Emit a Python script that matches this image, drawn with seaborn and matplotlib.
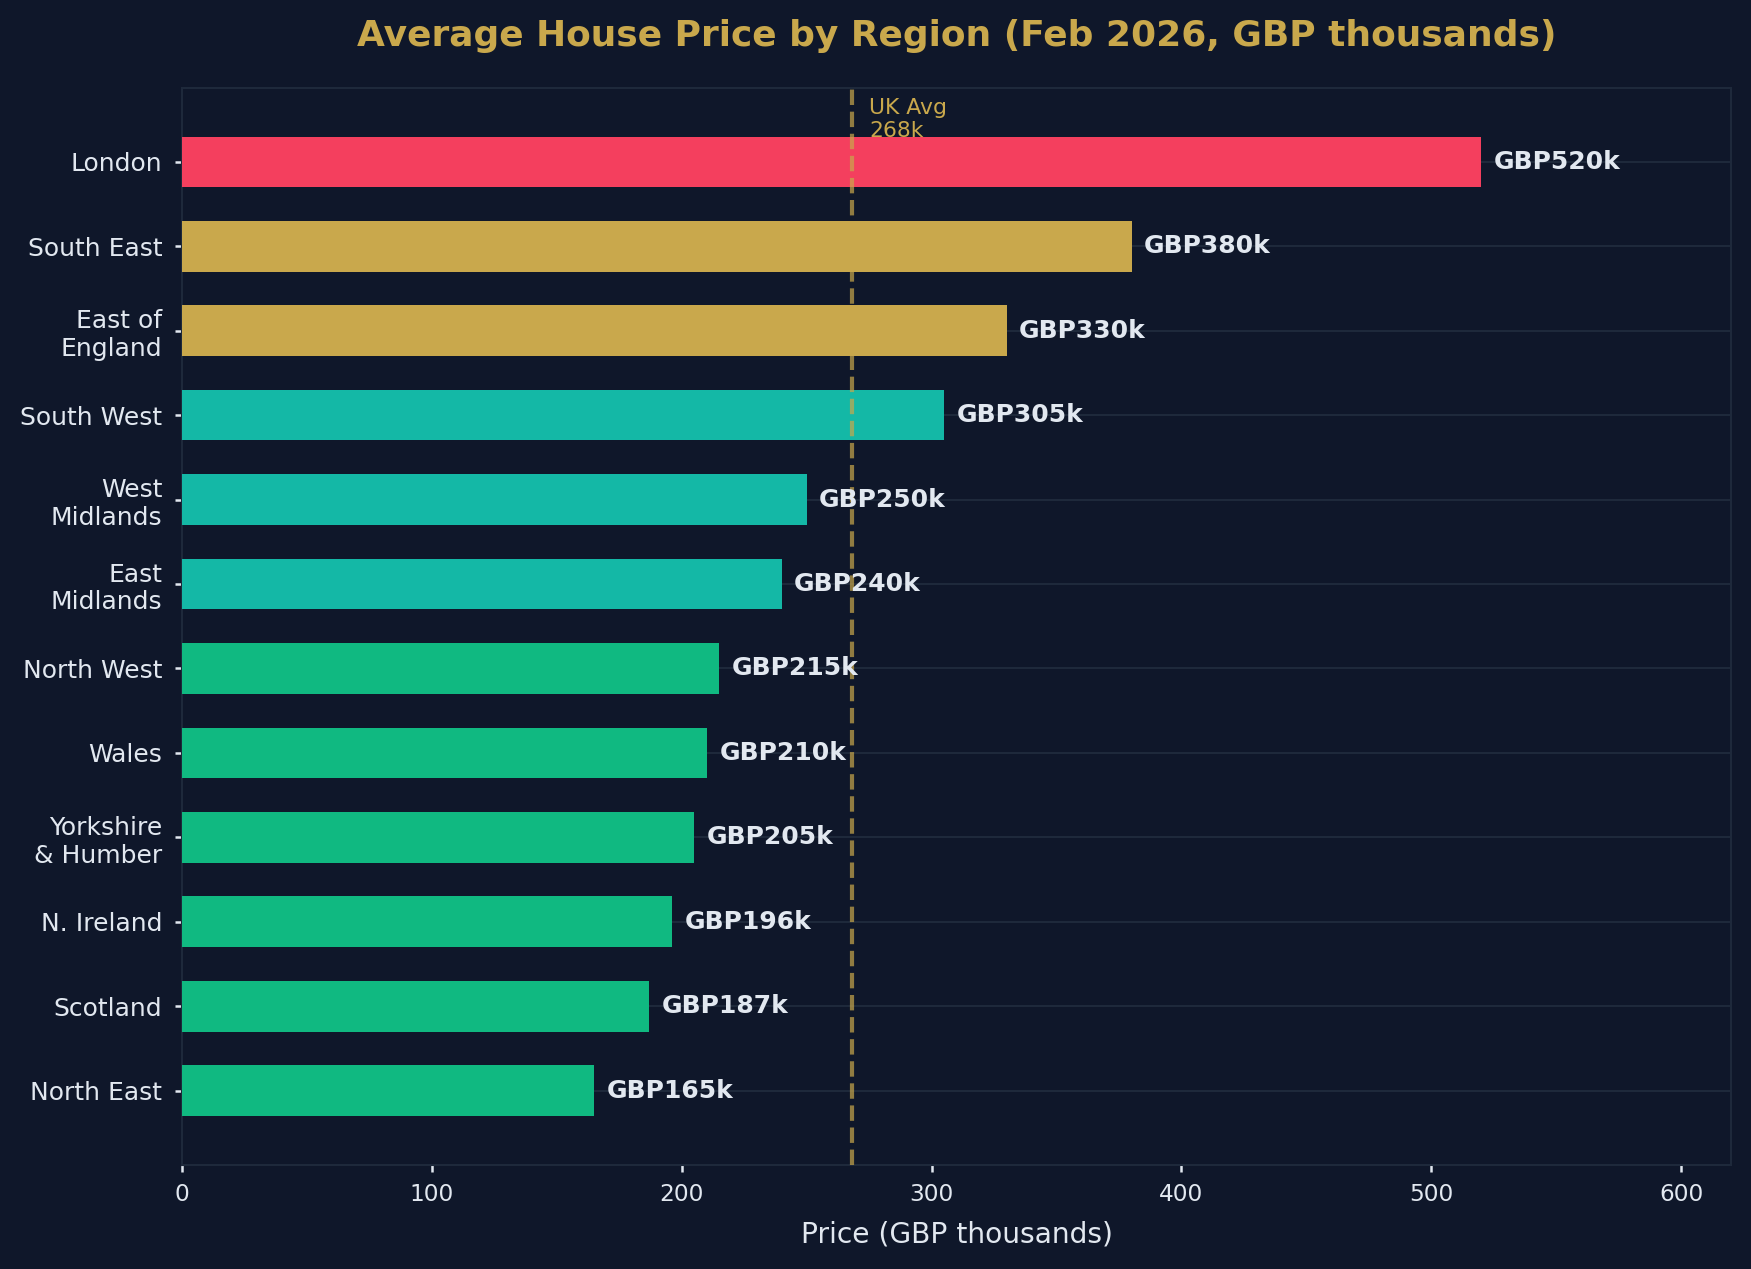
import numpy as np
import pandas as pd
import matplotlib
matplotlib.use("Agg")
import matplotlib.pyplot as plt
import seaborn as sns

regions = ["London", "South East", "East of\nEngland", "South West", "West\nMidlands",
           "East\nMidlands", "North West", "Wales", "Yorkshire\n& Humber", "N. Ireland",
           "Scotland", "North East"]
prices = [520, 380, 330, 305, 250, 240, 215, 210, 205, 196, 187, 165]
bar_colors = ["#f43f5e", "#c9a84c", "#c9a84c", "#14b8a6", "#14b8a6", "#14b8a6",
              "#10b981", "#10b981", "#10b981", "#10b981", "#10b981", "#10b981"]
uk_avg = 268

bg = "#0f172a"
grid_c = "#1e293b"
text_c = "#e2e8f0"
gold = "#c9a84c"

df = pd.DataFrame({"Region": regions, "Price": prices})

sns.set_style("dark")
plt.rcParams["font.family"] = ["DejaVu Sans"]

fig = plt.figure(figsize=(11.674, 8.46), dpi=150, facecolor=bg)
ax = fig.add_axes([0.104, 0.082, 0.8846, 0.849])
ax.set_facecolor(bg)

sns.barplot(data=df, x="Price", y="Region", hue="Region", palette=bar_colors,
            legend=False, width=0.6, saturation=1, linewidth=0, ax=ax, zorder=3)

ax.set_ylim(len(regions) - 1 + 0.88, -0.88)
ax.set_xlim(0, 620)

ax.axvline(uk_avg, color=gold, linestyle="--", linewidth=2, alpha=0.7, zorder=4)
ax.text(uk_avg + 7, -0.5, f"UK Avg\n{uk_avg}k", color=gold, fontsize=10.5,
        va="center", ha="left", zorder=5)

for i, v in enumerate(prices):
    ax.text(v + 5, i, f"GBP{v}k", color=text_c, fontsize=12, fontweight="bold",
            va="center", ha="left", zorder=5)

ax.grid(axis="y", color=grid_c, linewidth=1, zorder=0)
ax.grid(axis="x", visible=False)
ax.set_axisbelow(True)

for s in ax.spines.values():
    s.set_visible(True)
    s.set_color(grid_c)
    s.set_linewidth(1)

ax.tick_params(axis="both", colors=text_c, length=3.5, width=1.2, left=True, bottom=True)
ax.tick_params(axis="x", labelsize=11.2, pad=5)
ax.tick_params(axis="y", labelsize=12, pad=6)
ax.set_xlabel("Price (GBP thousands)", color=text_c, fontsize=13.5, labelpad=7)
ax.set_ylabel("")
ax.set_title("Average House Price by Region (Feb 2026, GBP thousands)",
             color=gold, fontsize=17.3, fontweight="bold", pad=20)

fig.savefig("out.png", dpi=150, facecolor=bg)
